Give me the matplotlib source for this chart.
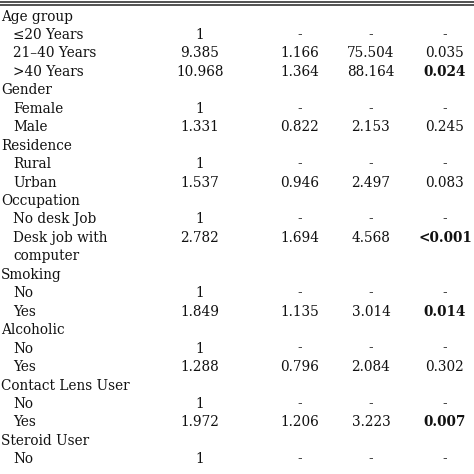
import matplotlib.pyplot as plt

# rows of the table
labels = ['Age group', '≤20 Years', '21–40 Years', '>40 Years',
          'Gender', 'Female', 'Male',
          'Residence', 'Rural', 'Urban',
          'Occupation', 'No desk Job', 'Desk job with', 'computer',
          'Smoking', 'No', 'Yes',
          'Alcoholic', 'No', 'Yes',
          'Contact Lens User', 'No', 'Yes',
          'Steroid User', 'No']
indent = [0, 1, 1, 1, 0, 1, 1, 0, 1, 1, 0, 1, 1, 1, 0, 1, 1, 0, 1, 1, 0, 1, 1, 0, 1]
odds = ['', '1', '9.385', '10.968', '', '1', '1.331', '', '1', '1.537', '', '1', '2.782', '',
        '', '1', '1.849', '', '1', '1.288', '', '1', '1.972', '', '1']
lower = ['', '-', '1.166', '1.364', '', '-', '0.822', '', '-', '0.946', '', '-', '1.694', '',
         '', '-', '1.135', '', '-', '0.796', '', '-', '1.206', '', '-']
upper = ['', '-', '75.504', '88.164', '', '-', '2.153', '', '-', '2.497', '', '-', '4.568', '',
         '', '-', '3.014', '', '-', '2.084', '', '-', '3.223', '', '-']
pval = ['', '-', '0.035', '0.024', '', '-', '0.245', '', '-', '0.083', '', '-', '<0.001', '',
        '', '-', '0.014', '', '-', '0.302', '', '-', '0.007', '', '-']
bold = [False, False, False, True, False, False, False, False, False, False, False, False, True, False,
        False, False, True, False, False, False, False, False, True, False, False]

fig = plt.figure(figsize=(4.74, 4.74), dpi=100)
ax = fig.add_axes([0, 0, 1, 1])
ax.set_xlim(0, 474)
ax.set_ylim(474, 0)
ax.axis('off')

font = dict(family='DejaVu Serif', fontsize=9.8, va='center', color='#111111')
ax.plot([0, 474], [1.5, 1.5], color='#333333', lw=1.2)
ax.plot([0, 474], [4.5, 4.5], color='#333333', lw=1.2)

y0, dy = 16.5, 18.45
for i, lab in enumerate(labels):
    y = y0 + i * dy
    ax.text(1 + 12 * indent[i], y, lab, ha='left', **font)
    ax.text(200, y, odds[i], ha='center', **font)
    ax.text(300, y, lower[i], ha='center', **font)
    ax.text(371, y, upper[i], ha='center', **font)
    ax.text(445, y, pval[i], ha='center', fontweight='bold' if bold[i] else 'normal', **font)

fig.savefig('out.png', dpi=100)
